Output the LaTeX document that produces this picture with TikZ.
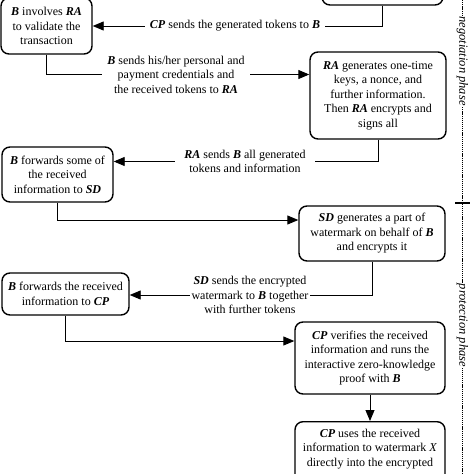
\documentclass[tikz,border=0pt]{standalone}
\usepackage{fontspec}
\setmainfont{Liberation Serif}
\usetikzlibrary{arrows.meta,backgrounds}
\newcommand{\bfit}[1]{\textbf{\textit{#1}}}
\begin{document}
\begin{tikzpicture}[x=1pt,y=-1pt,
  box/.style={draw, line width=1.4pt, rounded corners=8pt, align=center, inner sep=2pt, font=\fontsize{12}{14.5}\selectfont},
  lab/.style={fill=white, align=center, inner ysep=1pt, inner xsep=4.5pt, font=\fontsize{12}{14.5}\selectfont},
  conn/.style={line width=0.9pt, -{Triangle[length=11pt,width=9pt]}},
  phase/.style={fill=white, rotate=-90, font=\fontsize{12.5}{14}\selectfont\itshape, inner sep=0.8pt},
  phaseline/.style={line width=1.3pt, dash pattern=on 1.2pt off 0.9pt},
  tickline/.style={line width=1.2pt}
]
\useasboundingbox (0,0) rectangle (474,474);

% boxes
\node[box, minimum width=121pt, minimum height=50pt] (cpt) at (382.5,-20) {};
\node[box, minimum width=91pt, minimum height=56pt] (b1) at (46.5,26) {\bfit{B} involves \bfit{RA}\\to validate the\\transaction};
\node[box, minimum width=136pt, minimum height=87pt] (ra) at (378,95.5) {\bfit{RA} generates one-time\\keys, a nonce, and\\further information.\\Then \bfit{RA} encrypts and\\signs all};
\node[box, minimum width=111pt, minimum height=55pt] (b2) at (57.5,174.5) {\bfit{B} forwards some of\\the received\\information to \bfit{SD}};
\node[box, minimum width=146pt, minimum height=55pt] (sd) at (372,233.5) {\bfit{SD} generates a part of\\watermark on behalf of \bfit{B}\\and encrypts it};
\node[box, minimum width=127pt, minimum height=42pt] (b3) at (65.5,294) {\bfit{B} forwards the received\\information to \bfit{CP}};
\node[box, minimum width=150pt, minimum height=72pt] (cpv) at (370,358) {\bfit{CP} verifies the received\\information and runs the\\interactive zero-knowledge\\proof with \bfit{B}};
\node[box, minimum width=150pt, anchor=north, inner ysep=7pt, text depth=50pt] (cpu) at (370,421) {\bfit{CP} uses the received\\information to watermark \textit{X}\\directly into the encrypted};

% labels
\node[lab] (l1) at (235,26) {\bfit{CP} sends the generated tokens to \bfit{B}};
\node[lab, inner xsep=5.5pt] (l2) at (176,74.5) {\bfit{B} sends his/her personal and\\payment credentials and\\the received tokens to \bfit{RA}};
\node[lab, inner xsep=9pt] (l3) at (245,161.5) {\bfit{RA} sends \bfit{B} all generated\\tokens and information};
\node[lab, inner xsep=1.5pt] (l5) at (250,295) {\bfit{SD} sends the encrypted\\watermark to \bfit{B} together\\with further tokens};
\coordinate (k4) at (0,220);
\coordinate (k6) at (0,341);

% phase labels
\node[phase] (neg) at (462.5,61) {negotiation phase};
\node[phase] (prot) at (462.5,325.5) {protection phase};
\coordinate (pt) at (462.5,0);
\coordinate (pb) at (462.5,474);
\coordinate (tl) at (455,203);
\coordinate (tr) at (470,203);

\begin{scope}[on background layer]
\draw[conn] (cpt.south) |- (b1.east);
\draw[conn] (b1.south) |- (ra.west |- l2);
\draw[conn] (ra.south) |- (b2.east |- l3);
\draw[conn] (b2.south) |- (sd.west |- k4);
\draw[conn] (sd.south) |- (b3.east |- l5);
\draw[conn] (b3.south) |- (cpv.west |- k6);
\draw[conn] (cpv) -- (cpu);
\draw[phaseline] (pt) -- (pb);
\end{scope}
\draw[tickline] (tl) -- (tr);
\end{tikzpicture}
\end{document}
